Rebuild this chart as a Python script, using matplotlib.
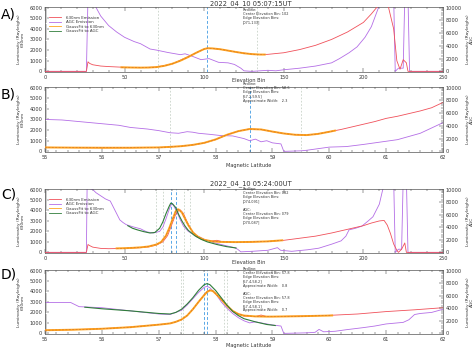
import matplotlib
matplotlib.use("Agg")
import matplotlib.pyplot as plt
from matplotlib.ticker import MultipleLocator, AutoMinorLocator
from matplotlib.lines import Line2D

# ---------------- DATA ----------------
titles = ["2022_04_10 05:07:15UT", "2022_04_10 05:24:00UT"]
panel_labels = ["A)", "B)", "C)", "D)"]
legend_labels = ["630nm Emission", "AGC Emission", "GaussFit to 630nm", "GaussFit to AGC"]

# Panel A (elevation bin)
A_red_x = [0, 26, 27, 28, 30, 35, 40, 50, 60, 70, 80, 90, 100, 102, 105, 110, 120, 130, 135, 140, 150, 160,
           170, 180, 190, 200, 205, 210, 215, 219, 221, 223, 225, 227, 228, 250]
A_red_y = [0, 0, 900, 750, 620, 500, 450, 380, 350, 400, 700, 1400, 2100, 2180, 2150, 2080, 1820, 1620, 1580,
           1600, 1750, 2050, 2450, 3000, 3700, 4600, 5400, 6300, 6500, 4000, 1000, 200, 1100, 800, 0, 0]
A_agc_x = [0, 26, 27, 29, 31, 35, 40, 45, 50, 56, 60, 66, 70, 77, 80, 85, 88, 92, 98, 103, 109, 115, 119,
           123, 125, 130, 140, 145, 150, 160, 170, 180, 185, 191, 196, 201, 205, 208, 212, 219, 220, 222,
           225, 226, 228, 229, 250]
A_agc_y = [0, 0, 7000, 7000, 6300, 5200, 4300, 3700, 3200, 2800, 2600, 2100, 2000, 1780, 1700, 1570, 1650,
           1450, 1100, 1200, 850, 800, 650, 300, 50, 0, 100, 50, 150, 300, 500, 800, 1200, 1750, 2300, 3200,
           4200, 5400, 7000, 7000, 0, 300, 300, 7000, 7000, 0, 0]
A_fit_x = [48, 55, 60, 65, 70, 75, 80, 85, 90, 95, 100, 102, 105, 110, 115, 120, 125, 130, 135, 138]
A_fit_y = [380, 360, 350, 360, 400, 520, 720, 1000, 1350, 1750, 2100, 2170, 2160, 2080, 1950, 1820, 1700,
           1620, 1580, 1580]
A_center = [102]
A_edges = [71, 133]
A_text = "Redline:\nCenter Elevation Bin: 102\nEdge Elevation Bins:\n[071,133]"

# Panel B (magnetic latitude)
B_red_x = [55, 55.5, 56, 56.5, 57, 57.2, 57.4, 57.6, 57.8, 58, 58.2, 58.4, 58.6, 58.8, 59, 59.2, 59.4,
           59.6, 59.8, 60, 60.2, 60.4, 60.6, 60.8, 61, 61.2, 61.4, 61.6, 61.8, 62]
B_red_y = [380, 350, 330, 340, 370, 420, 480, 600, 780, 1100, 1550, 1900, 2120, 2050, 1850, 1680, 1560,
           1520, 1650, 1850, 2050, 2300, 2550, 2800, 3100, 3300, 3550, 3800, 4100, 4600]
B_agc_x = [55, 55.3, 55.6, 56, 56.3, 56.5, 56.8, 57, 57.2, 57.35, 57.5, 57.6, 57.7, 57.9, 58.1, 58.3, 58.5,
           58.6, 58.7, 58.8, 58.9, 59, 59.15, 59.2, 59.5, 59.6, 59.8, 60, 60.3, 60.6, 60.8, 61, 61.2, 61.4,
           61.6, 61.8, 62]
B_agc_y = [3000, 2950, 2800, 2600, 2450, 2250, 2100, 1950, 1750, 1700, 1850, 1800, 1700, 1600, 1480, 1450,
           1200, 1000, 1150, 900, 1000, 800, 700, 0, 50, 100, 250, 400, 450, 650, 800, 950, 1100, 1400,
           1700, 2200, 2700]
B_fit_x = [55, 55.5, 56, 56.5, 57, 57.2, 57.4, 57.6, 57.8, 58, 58.2, 58.4, 58.6, 58.8, 59, 59.2, 59.4,
           59.6, 59.8, 60, 60.1]
B_fit_y = [370, 350, 340, 340, 370, 420, 490, 610, 800, 1120, 1560, 1900, 2100, 2060, 1860, 1680, 1560,
           1530, 1640, 1840, 1950]
B_center = [58.6]
B_edges = [57.2, 59.5]
B_text = ("Redline:\nCenter Elevation Bin: 58.6\nEdge Elevation Bins:\n[57.2,59.5]\n"
          "Approximate Width:   2.3")

# Panel C (elevation bin)
C_red_x = [0, 26, 27, 28, 30, 35, 40, 50, 60, 65, 70, 74, 77, 80, 82, 84, 85, 87, 89, 92, 95, 100, 105,
           108, 112, 120, 130, 140, 150, 160, 170, 180, 190, 200, 205, 210, 213, 215, 217, 219, 221, 222,
           224, 226, 227, 250]
C_red_y = [0, 0, 750, 650, 500, 380, 350, 380, 450, 520, 700, 1000, 1600, 2800, 3600, 4000, 4050, 3700,
           3000, 2100, 1500, 1150, 1100, 1150, 1000, 950, 1000, 1050, 1150, 1350, 1550, 1850, 2200, 2550,
           2800, 3000, 3050, 2600, 1800, 800, 200, 0, 300, 900, 0, 0]
C_agc_x = [0, 26, 26.5, 28, 30, 32, 35, 38, 41, 43, 45, 47, 49, 51, 55, 60, 64, 68, 72, 74, 76, 78, 79, 80,
           81, 83, 85, 87, 90, 93, 96, 100, 106, 112, 119, 121, 123, 130, 140, 146, 148, 155, 165, 172,
           180, 186, 189, 191, 195, 199, 203, 206, 210, 212, 214, 219, 220, 222, 224, 225, 227, 228, 250]
C_agc_y = [0, 0, 7000, 6100, 6000, 5700, 5400, 5100, 4900, 4300, 3700, 3100, 2850, 2650, 2450, 2250, 1950,
           1850, 2000, 2400, 3200, 4100, 4500, 4600, 4400, 3800, 3100, 2500, 2000, 1750, 1550, 1250, 930,
           700, 450, 300, 50, 100, 200, 450, 200, 100, 250, 400, 780, 1100, 1550, 2150, 2300, 2500, 3000,
           3400, 4600, 5900, 7000, 7000, 0, 300, 300, 7000, 7000, 0, 0]
C_fit_x = [45, 50, 55, 60, 65, 70, 73, 76, 78, 80, 82, 83, 84, 86, 88, 90, 93, 96, 100, 105, 110, 120,
           130, 140, 149]
C_fit_y = [380, 400, 430, 480, 560, 750, 1000, 1600, 2300, 3100, 3900, 4100, 4100, 3800, 3200, 2600, 1900,
           1500, 1200, 1050, 1000, 980, 1000, 1050, 1150]
C_gfit_x = [52, 55, 58, 62, 66, 69, 72, 74, 76, 78, 79, 80, 82, 84, 86, 88, 90, 94, 98, 102, 108, 114, 120]
C_gfit_y = [2550, 2300, 2150, 1980, 1850, 1900, 2300, 2900, 3700, 4400, 4700, 4650, 4300, 3600, 3000,
            2500, 2100, 1600, 1250, 1000, 750, 550, 420]
C_center = [79, 82]
C_edges = [70, 74, 87, 91]
C_text = ("Redline:\nCenter Elevation Bin: 082\nEdge Elevation Bins:\n[074,091]\n\n"
          "AGC:\nCenter Elevation Bin: 079\nEdge Elevation Bins:\n[070,087]")

# Panel D (magnetic latitude)
D_red_x = [55, 55.5, 56, 56.5, 57, 57.2, 57.3, 57.4, 57.5, 57.6, 57.7, 57.8, 57.85, 57.9, 57.95, 58, 58.1,
           58.2, 58.3, 58.4, 58.5, 58.7, 58.8, 58.9, 59, 59.5, 60, 60.5, 61, 61.5, 62]
D_red_y = [300, 350, 450, 600, 840, 950, 1100, 1300, 1700, 2300, 3000, 3700, 4000, 4150, 4050, 3800, 3200,
           2600, 2100, 1800, 1650, 1600, 1750, 1600, 1600, 1650, 1720, 1850, 2080, 2250, 2450]
D_agc_x = [55, 55.45, 55.6, 56, 56.5, 57, 57.2, 57.4, 57.5, 57.6, 57.7, 57.8, 57.85, 57.9, 58, 58.1, 58.2,
           58.3, 58.4, 58.5, 58.6, 58.7, 58.8, 59, 59.15, 59.2, 59.6, 59.75, 59.82, 59.9, 60.1, 60.3, 60.6,
           60.8, 61, 61.3, 61.4, 61.5, 61.6, 61.8, 62]
D_agc_y = [2950, 2950, 2550, 2450, 2150, 1850, 1800, 2200, 2700, 3300, 3900, 4400, 4500, 4350, 3800, 3000,
           2400, 1900, 1500, 1200, 1000, 1100, 1000, 800, 700, 0, 50, 100, 380, 150, 200, 350, 550, 700,
           900, 1050, 1300, 1800, 1900, 2000, 2300]
D_fit_x = [55, 55.5, 56, 56.5, 57, 57.2, 57.3, 57.4, 57.5, 57.6, 57.7, 57.8, 57.85, 57.9, 57.95, 58, 58.1,
           58.2, 58.3, 58.4, 58.5, 58.7, 58.9, 59, 59.5, 60, 60.05]
D_fit_y = [300, 350, 440, 590, 830, 950, 1100, 1320, 1700, 2300, 3000, 3650, 3950, 4100, 4050, 3800, 3250,
           2650, 2150, 1850, 1700, 1620, 1600, 1600, 1640, 1700, 1710]
D_gfit_x = [55.7, 56, 56.5, 57, 57.2, 57.3, 57.4, 57.5, 57.6, 57.7, 57.8, 57.85, 57.9, 58, 58.1, 58.2,
            58.3, 58.4, 58.5, 58.7, 58.9, 59.05]
D_gfit_y = [2500, 2350, 2150, 1900, 1850, 2000, 2300, 2800, 3400, 4100, 4650, 4750, 4650, 4100, 3400, 2700,
            2100, 1700, 1400, 1100, 850, 750]
D_center = [57.8, 57.85]
D_edges = [57.4, 57.42, 58.15, 58.2]
D_text = ("Redline:\nCenter Elevation Bin: 57.8\nEdge Elevation Bins:\n[57.4,58.2]\n"
          "Approximate Width:   0.8\n\nAGC:\nCenter Elevation Bin: 57.8\nEdge Elevation Bins:\n[57.4,58.1]\n"
          "Approximate Width:   0.7")

# ---------------- STYLE ----------------
RED = "#f0505a"
PURPLE = "#b46ee6"
ORANGE = "#ffa51e"
GREEN = "#2f7d3a"
CENTER_C = "#5aa8e6"
EDGE_C = "#c8d2c8"
TXT = "#333333"

W, H = 474, 349
fig = plt.figure(figsize=(W / 100, H / 100), dpi=100)

def fx(px):
    return px / W

def fy(py):
    return 1 - py / H

YMIN, YMAX = -60, 6050

def make_axes(top, bottom, xlim, xmajor, xminor, xlabel, xlabel_y):
    left, right = 45, 443
    ax = fig.add_axes([fx(left), fy(bottom), (right - left) / W, (bottom - top) / H])
    ax.set_xlim(*xlim)
    ax.set_ylim(YMIN, YMAX)
    ax.xaxis.set_major_locator(MultipleLocator(xmajor))
    ax.xaxis.set_minor_locator(MultipleLocator(xminor))
    ax.yaxis.set_major_locator(MultipleLocator(1000))
    ax.yaxis.set_minor_locator(MultipleLocator(200))
    ax.tick_params(which="both", direction="in", top=True, right=False, colors=TXT,
                   labelsize=3.6, width=0.35, pad=2)
    ax.tick_params(which="major", length=2.6)
    ax.tick_params(which="minor", length=1.3)
    for s in ax.spines.values():
        s.set_linewidth(0.5)
        s.set_color("#555555")
    ax.set_ylabel("Luminosity (Rayleighs)\n630nm", fontsize=3.2, color=TXT, labelpad=3,
                  linespacing=0.9)
    ax2 = ax.twinx()
    ax2.set_ylim(YMIN * 10000 / 6000, YMAX * 10000 / 6000)
    ax2.yaxis.set_major_locator(MultipleLocator(2000))
    ax2.yaxis.set_minor_locator(MultipleLocator(400))
    ax2.tick_params(which="both", direction="in", colors=TXT, labelsize=3.6, width=0.35, pad=2)
    ax2.tick_params(which="major", length=2.6)
    ax2.tick_params(which="minor", length=1.3)
    for s in ax2.spines.values():
        s.set_visible(False)
    ax2.set_ylabel("Luminosity (Rayleighs)\nAGC", fontsize=3.2, color=TXT, labelpad=3,
                   linespacing=0.9)
    fig.text(fx(249), fy(xlabel_y), xlabel, fontsize=3.6, color=TXT, ha="center", va="center")
    return ax

def draw(ax, rx, ry, gx, gy, fxs, fys, gfx, gfy, centers, edges):
    for e in edges:
        ax.axvline(e, color=EDGE_C, lw=0.6, ls=(0, (2, 2)), zorder=1)
    for c in centers:
        ax.axvline(c, color=CENTER_C, lw=0.7, ls=(0, (3, 2)), zorder=1)
    ax.plot(gx, gy, color=PURPLE, lw=0.6, zorder=2)
    ax.plot(rx, ry, color=RED, lw=0.6, zorder=3)
    if fxs is not None:
        ax.plot(fxs, fys, color=ORANGE, lw=1.4, zorder=4)
        ax.plot(fxs, fys, color="#c86432", lw=0.35, ls=(0, (4, 3)), zorder=5)
    if gfx is not None:
        ax.plot(gfx, gfy, color=GREEN, lw=0.8, zorder=5)

def legend(ax):
    handles = [Line2D([], [], color=c, lw=0.6) for c in (RED, PURPLE, ORANGE, GREEN)]
    ax.legend(handles, legend_labels, loc="upper left", bbox_to_anchor=(0.0, 0.93), fontsize=2.9,
              frameon=False, handlelength=3.0, handletextpad=1.2, labelspacing=0.15,
              borderaxespad=0.6, labelcolor=TXT)

# Panel A
axA = make_axes(7, 72, (0, 250), 50, 10, "Elevation Bin", 80)
draw(axA, A_red_x, A_red_y, A_agc_x, A_agc_y, A_fit_x, A_fit_y, None, None, A_center, A_edges)
legend(axA)
# Panel B
axB = make_axes(87, 152, (55, 62), 1, 0.2, "Magnetic Latitude", 166)
draw(axB, B_red_x, B_red_y, B_agc_x, B_agc_y, B_fit_x, B_fit_y, None, None, B_center, B_edges)
# Panel C
axC = make_axes(189, 253, (0, 250), 50, 10, "Elevation Bin", 263)
draw(axC, C_red_x, C_red_y, C_agc_x, C_agc_y, C_fit_x, C_fit_y, C_gfit_x, C_gfit_y, C_center, C_edges)
legend(axC)
# Panel D
axD = make_axes(270, 334, (55, 62), 1, 0.2, "Magnetic Latitude", 346)
draw(axD, D_red_x, D_red_y, D_agc_x, D_agc_y, D_fit_x, D_fit_y, D_gfit_x, D_gfit_y, D_center, D_edges)

# Titles
fig.text(fx(251), fy(4), titles[0], fontsize=4.8, color=TXT, ha="center", va="center")
fig.text(fx(251), fy(184), titles[1], fontsize=4.8, color=TXT, ha="center", va="center")

# Info texts
for txt, ytop in ((A_text, 8), (B_text, 82), (C_text, 187), (D_text, 267)):
    fig.text(fx(243), fy(ytop), txt, fontsize=2.5, color=TXT, ha="left", va="top", linespacing=1.05)

# Panel labels
for lab, py in zip(panel_labels, (15, 94, 195, 275)):
    fig.text(fx(1), fy(py), lab, fontsize=10, color="black", ha="left", va="center")

fig.savefig("out.png", dpi=100)
